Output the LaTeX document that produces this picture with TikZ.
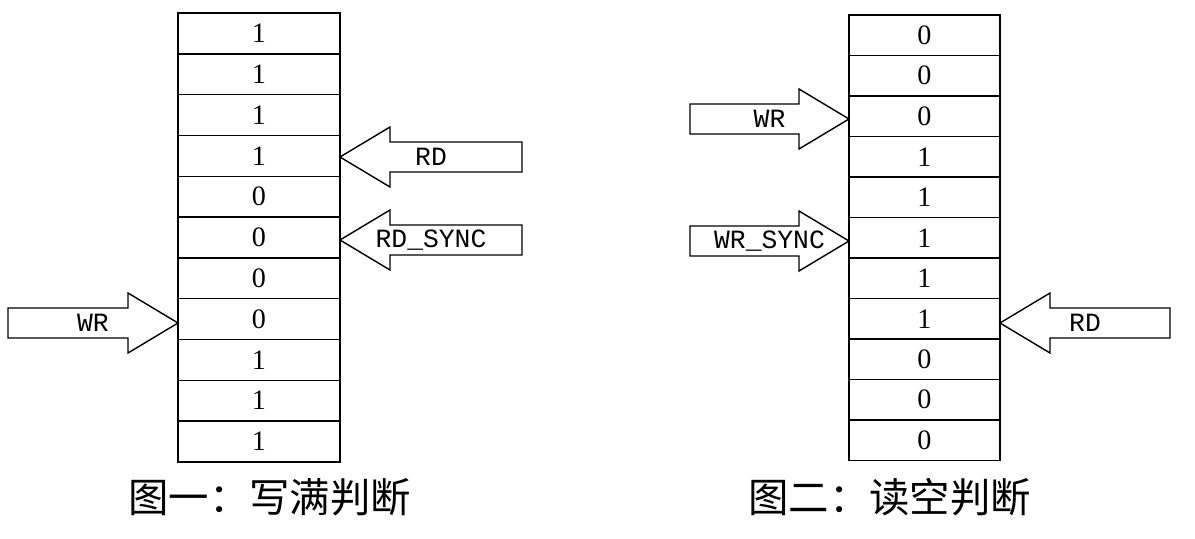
\documentclass[tikz,border=0pt]{standalone}
\usepackage{fontspec}
\setmainfont{Liberation Serif}
\newfontfamily\cjk{Noto Sans CJK SC}
\newfontfamily\lbl{Liberation Mono}
\usetikzlibrary{positioning}

\tikzset{
  cell/.style={draw, line width=0.8pt, minimum height=0.816cm, inner sep=0pt, font=\fontsize{16}{16}\selectfont},
  lab/.style={font=\lbl\fontsize{15}{15}\selectfont},
  caption/.style={font=\cjk\fontsize{23}{23}\selectfont, anchor=west},
  fat/.style={draw, line width=0.8pt}
}
% fat arrow: tip x, tip y, direction (+1 right, -1 left), total length, label, name
\newcommand\fatarrow[6]{%
  \draw[fat] (#1,#2) -- ++(-50*#3,-30) -- ++(0,15) -- ++(-#4*#3+50*#3,0) -- ++(0,30)
    -- ++(#4*#3-50*#3,0) -- ++(0,15) -- cycle;
  \node[lab] (#6) at ({#1-#3*(#4+50)/2+25*#3},#2) {#5};}

\begin{document}
\begin{tikzpicture}[x=0.02cm, y=-0.02cm]
  \useasboundingbox (0,0) rectangle (1195,538);
  % left column
  \foreach \v [count=\i] in {1,1,1,1,0,0,0,0,1,1,1}
    \node[cell, minimum width=3.24cm] (l\i) at (259,{13+(\i-0.5)*40.8}) {\v};
  % right column
  \foreach \v [count=\i] in {0,0,0,1,1,1,1,1,0,0,0}
    \node[cell, minimum width=3.02cm] (r\i) at (924.5,{15+(\i-0.5)*40.5}) {\v};
  % pointers
  \fatarrow{340}{157}{-1}{182}{RD}{rd1}
  \fatarrow{340}{240}{-1}{182}{RD\_SYNC}{rds1}
  \fatarrow{178}{323}{1}{170}{WR}{wr1}
  \fatarrow{849}{119}{1}{159}{WR}{wr2}
  \fatarrow{849}{241}{1}{159}{WR\_SYNC}{wrs2}
  \fatarrow{1000}{323}{-1}{170}{RD}{rd2}
  % captions
  \node[caption] (c1) at (122,497) {图一：写满判断};
  \node[caption] (c2) at (742,497) {图二：读空判断};
\end{tikzpicture}
\end{document}
